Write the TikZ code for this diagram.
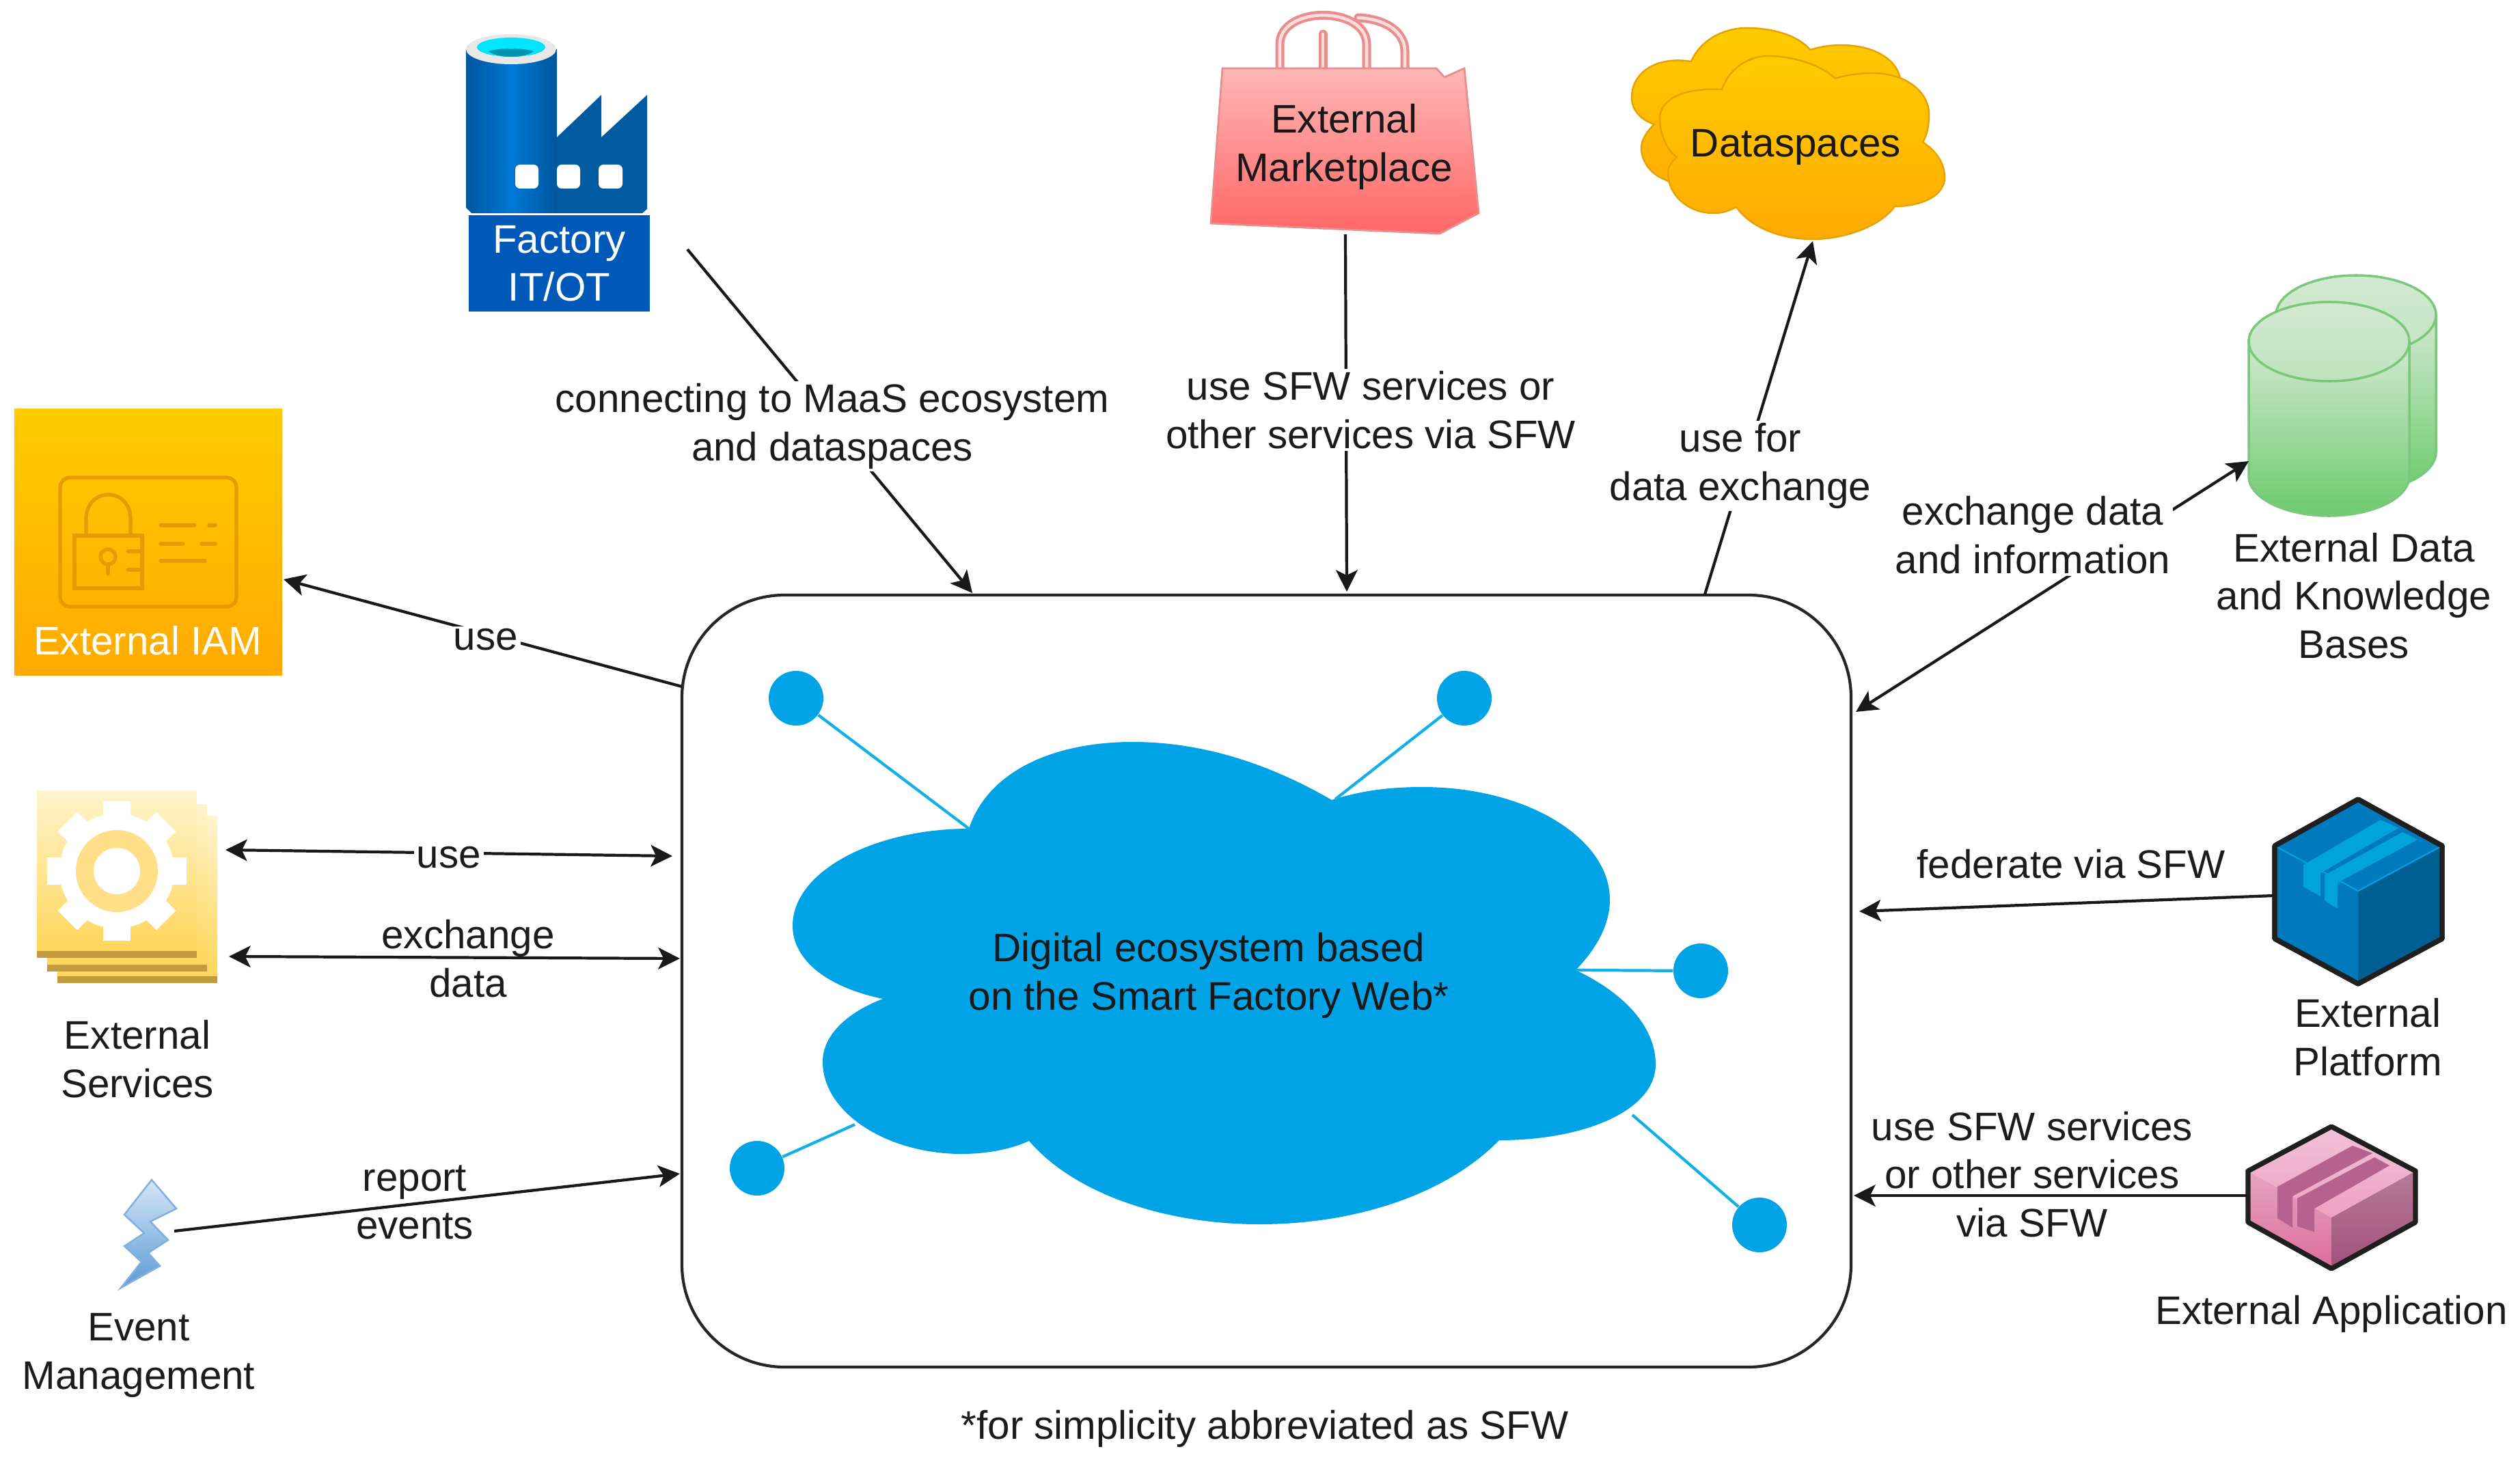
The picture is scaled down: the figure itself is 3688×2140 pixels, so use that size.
\documentclass[tikz,border=0pt]{standalone}
\usepackage{fontspec}
\setmainfont{Liberation Sans}
\usetikzlibrary{arrows.meta}
\definecolor{txt}{HTML}{1C1C1C}
\definecolor{ecoblue}{HTML}{00A3E6}
\definecolor{satline}{HTML}{12B0E6}
\definecolor{HGreen}{HTML}{7CC77C}
\definecolor{HGtop}{HTML}{D2E9D2}
\definecolor{HGbot}{HTML}{6CCB6C}
\definecolor{HPinkD}{HTML}{E88E8E}
\definecolor{HPinkL}{HTML}{FFDCDC}
\definecolor{IamD}{HTML}{E69A05}
\definecolor{DsEdge}{HTML}{E8A200}
\definecolor{DsTop}{HTML}{FFCC00}
\definecolor{DsBot}{HTML}{FFAA00}
\definecolor{HFr}{HTML}{005BA1}
\definecolor{HFa}{HTML}{00569E}
\definecolor{HFb}{HTML}{0078D4}
\definecolor{HFe}{HTML}{E8E8E8}
\definecolor{HFc}{HTML}{00E5FF}
\definecolor{HFd}{HTML}{0094AE}
\definecolor{HFbox}{HTML}{0058B8}
\definecolor{HBagT}{HTML}{FFB6B6}
\definecolor{HBagB}{HTML}{FF6666}
\definecolor{HSt}{HTML}{FFF4CC}
\definecolor{HSb}{HTML}{FFD65C}
\definecolor{HSbar}{HTML}{C29B3E}
\definecolor{HSg}{HTML}{FFDF88}
\definecolor{HEv}{HTML}{7FB0E0}
\definecolor{HEt}{HTML}{D5E6F8}
\definecolor{HEb}{HTML}{5B9BD5}
\definecolor{HPl}{HTML}{0079BD}
\definecolor{HPr}{HTML}{005F92}
\definecolor{HPt}{HTML}{00A3DC}
\definecolor{HAlt}{HTML}{E6A6C2}
\definecolor{HAlb}{HTML}{DC6C9A}
\definecolor{HArt}{HTML}{B67A98}
\definecolor{HArb}{HTML}{A2507A}
\definecolor{HAtt}{HTML}{F0C2D8}
\definecolor{HAtb}{HTML}{F0A0C0}
\definecolor{HAt}{HTML}{B5628F}
\tikzset{
  lbl/.style={font=\fontsize{16.6}{20}\selectfont,text=txt,align=center,inner sep=1pt},
  lblw/.style={lbl,fill=white},
  conn/.style={draw=black!90,line width=1.2pt},
  tip/.style={-{Stealth[length=9pt,width=9pt,inset=2.2pt]}},
  tips/.style={{Stealth[length=9pt,width=9pt,inset=2.2pt]}-{Stealth[length=9pt,width=9pt,inset=2.2pt]}},
  sat/.style={fill=ecoblue},
  satl/.style={draw=satline,line width=1.2pt},
  cyl/.style={draw=HGreen,line width=1pt,top color=HGtop,bottom color=HGbot},
  handle/.style={draw=HPinkD,double=HPinkL,line width=1.2pt,double distance=1.3pt,line cap=round},
  hexo/.style={draw=black!88,line width=2.1pt,line join=round},
  icn/.style={draw=IamD,line width=1.5pt,line cap=round},
  orangecl/.style={draw=DsEdge,line width=.7pt,top color=DsTop,bottom color=DsBot},
}
\begin{document}
\begin{tikzpicture}[x=0.1mm,y=-0.1mm]
\useasboundingbox (0,0) rectangle (3688,2140);
\fill[white] (0,0) rectangle (3688,2140);

% --- main box
\node[draw=black!85,line width=1.2pt,rounded corners=15mm,minimum width=171.1mm,minimum height=113mm,inner sep=0pt] (eco) at (1853.5,1436) {};

% --- central cloud
\fill[ecoblue] (1418,1213) .. controls (1445,1130) and (1540,1086) .. (1658,1086)
  .. controls (1770,1086) and (1870,1125) .. (1949,1171)
  .. controls (1990,1158) and (2030,1152) .. (2082,1152)
  .. controls (2233,1152) and (2356,1226) .. (2356,1317)
  .. controls (2356,1355) and (2335,1390) .. (2306,1420)
  .. controls (2380,1455) and (2423,1505) .. (2423,1558)
  .. controls (2423,1625) and (2320,1669) .. (2194,1669)
  .. controls (2120,1745) and (1990,1792) .. (1843,1792)
  .. controls (1700,1792) and (1570,1745) .. (1506,1670)
  .. controls (1480,1682) and (1445,1689) .. (1407,1689)
  .. controls (1300,1689) and (1204,1630) .. (1204,1554)
  .. controls (1204,1515) and (1240,1482) .. (1292,1462)
  .. controls (1210,1445) and (1160,1405) .. (1160,1355)
  .. controls (1160,1275) and (1280,1213) .. (1418,1213) -- cycle;
\node[lbl,text=black!90] (ecotext) at (1769,1428) {Digital ecosystem based\\on the Smart Factory Web*};
\node[lbl] (note) at (1851,2091) {*for simplicity abbreviated as SFW};

% satellites
\node[sat,circle,minimum size=8mm,inner sep=0pt] (s1) at (1165,1022) {};
\node[sat,circle,minimum size=8mm,inner sep=0pt] (s2) at (2143,1022) {};
\node[sat,circle,minimum size=8mm,inner sep=0pt] (s3) at (2489,1421) {};
\node[sat,circle,minimum size=8mm,inner sep=0pt] (s4) at (1108,1710) {};
\node[sat,circle,minimum size=8mm,inner sep=0pt] (s5) at (2575,1793) {};
\coordinate (c1) at (1418,1213);
\coordinate (c2) at (1954,1170);
\coordinate (c3) at (2306,1420);
\coordinate (c4) at (1251,1646);
\coordinate (c5) at (2389,1632);
\draw[satl] (s1) -- (c1);
\draw[satl] (s2) -- (c2);
\draw[satl] (s3) -- (c3);
\draw[satl] (s4) -- (c4);
\draw[satl] (s5) -- (c5);

% --- factory
\fill[HFr] (815,201) -- (880,139) -- (880,201) -- (947,139) -- (947,306) -- (940,312) -- (815,312) -- cycle;
\shade[left color=HFa,right color=HFa,middle color=HFb] (682,72) -- (815,72) -- (815,312) -- (690,312) -- (682,304) -- cycle;
\fill[HFe] (748,72) ellipse [x radius=66,y radius=22];
\fill[HFc] (748,69) ellipse [x radius=50,y radius=14];
\fill[HFd] (715,75) .. controls (730,86) and (766,86) .. (781,75) .. controls (766,70) and (730,70) .. (715,75) -- cycle;
\fill[white,rounded corners=2pt] (754,241) rectangle (788,276);
\fill[white,rounded corners=2pt] (815,241) rectangle (849,276);
\fill[white,rounded corners=2pt] (876,241) rectangle (911,276);
\node[fill=HFbox,minimum width=26.5mm,minimum height=14.1mm,inner sep=0pt,text=white,font=\fontsize{16.6}{20}\selectfont,align=center] (factory) at (818.5,385.5) {Factory\\IT/OT};

% --- External IAM
\shade[top color=DsTop,bottom color=DsBot] (21,598) rectangle (413,988);
\draw[icn,rounded corners=4pt] (88,699) rectangle (346,888);
\draw[icn] (109,784) rectangle (208,861);
\draw[icn] (126,784) -- (126,760) .. controls (126,712) and (191,712) .. (191,760) -- (191,784);
\draw[icn] (158,815) circle [radius=11];
\draw[icn] (158,826) -- (158,840);
\draw[icn] (187,807) -- (208,807);
\draw[icn] (187,834) -- (208,834);
\draw[icn] (235,769) -- (285,769);
\draw[icn] (306,769) -- (315,769);
\draw[icn] (235,796) -- (268,796);
\draw[icn] (295,796) -- (315,796);
\draw[icn] (235,821) -- (300,821);
\node[text=white,font=\fontsize{16.6}{20}\selectfont,inner sep=0pt] (iam) at (216,938) {External IAM};

% --- marketplace bag
\draw[handle] (1936,100) -- (1936,50);
\draw[handle] (1988,26) .. controls (2030,28) and (2056,48) .. (2056,75) -- (2056,100);
\draw[handle] (1873,100) -- (1873,65) .. controls (1873,8) and (2000,8) .. (2000,65) -- (2000,100);
\path[draw=HPinkD,line width=.8pt,top color=HBagT,bottom color=HBagB]
  (1789,100) -- (2102,100) -- (2114,113) -- (2143,100) -- (2164,312) -- (2107,342) -- (1772,327) -- cycle;
\node[lbl,text=black!90] (market) at (1967,215) {External\\Marketplace};

% --- dataspaces
\path[orangecl] (2388,143) .. controls (2388,105) and (2425,82) .. (2475,90)
  .. controls (2488,60) and (2520,41) .. (2557,41)
  .. controls (2600,41) and (2635,55) .. (2649,73)
  .. controls (2665,68) and (2680,66) .. (2694,66)
  .. controls (2740,66) and (2775,85) .. (2781,115)
  -- (2781,200) -- (2500,300) -- (2437,263)
  .. controls (2415,255) and (2402,235) .. (2402,217)
  .. controls (2402,205) and (2410,192) .. (2421,182)
  .. controls (2400,175) and (2388,160) .. (2388,143) -- cycle;
\path[orangecl] (2429,173) .. controls (2429,145) and (2465,128) .. (2520,131)
  .. controls (2528,105) and (2555,82) .. (2587,82)
  .. controls (2625,82) and (2665,95) .. (2686,115)
  .. controls (2700,110) and (2720,107) .. (2740,107)
  .. controls (2790,107) and (2823,135) .. (2823,167)
  .. controls (2823,185) and (2820,198) .. (2814,208)
  .. controls (2835,222) and (2846,240) .. (2846,260)
  .. controls (2846,285) and (2815,302) .. (2773,302)
  .. controls (2755,328) and (2705,350) .. (2653,350)
  .. controls (2600,350) and (2560,330) .. (2541,303)
  .. controls (2530,309) and (2520,312) .. (2508,312)
  .. controls (2470,312) and (2441,285) .. (2441,253)
  .. controls (2441,245) and (2447,236) .. (2454,230)
  .. controls (2438,218) and (2429,195) .. (2429,173) -- cycle;
\node[lbl,text=black!90] (data) at (2628,215) {Dataspaces};

% --- cylinders
\path[cyl] (3331,461) -- (3331,662) .. controls (3331,694) and (3384,720) .. (3448,720) .. controls (3512,720) and (3565,694) .. (3565,662) -- (3565,461) -- cycle;
\path[cyl,top color=HGtop,bottom color=HGtop!85!HGbot] (3448,461) ellipse [x radius=117,y radius=58];
\path[cyl] (3291,500) -- (3291,697) .. controls (3291,729) and (3344,755) .. (3408.5,755) .. controls (3473,755) and (3526,729) .. (3526,697) -- (3526,500) -- cycle;
\path[cyl,top color=HGtop,bottom color=HGtop!80!HGbot] (3408.5,500) ellipse [x radius=117.5,y radius=58];
\node[lbl] (kb) at (3445,872) {External Data\\and Knowledge\\Bases};

% --- external services
\foreach \dx/\dy in {30/37,15/20,0/0}{
  \begin{scope}[shift={(\dx,\dy)}]
    \shade[top color=HSt,bottom color=HSb] (54,1157) rectangle (288,1392);
    \fill[HSbar] (54,1392) rectangle (288,1402);
  \end{scope}
}
\fill[white] (171,1275) circle [radius=84];
\foreach \a in {0,45,...,315}{
  \fill[white,rotate around={\a:(171,1275)}] (151,1173) rectangle (191,1210);
}
\fill[HSg] (171,1275) circle [radius=60];
\fill[white] (171,1275) circle [radius=34];
\node[lbl] (svc) at (201,1550) {External\\Services};

% --- event management
\path[draw=HEv,line width=.7pt,top color=HEt,bottom color=HEb]
 (222,1727) -- (258,1769) -- (220,1788) -- (246,1815) -- (217,1834) -- (234,1853) -- (177,1885) -- (207,1847) -- (182,1824) -- (211,1805) -- (182,1778) -- cycle;
\node[lbl] (evt) at (203,1984) {Event\\Management};

% --- external platform
\path[fill=HPl,hexo] (3451,1170) -- (3574,1238) -- (3574,1374) -- (3451,1440) -- (3329,1374) -- (3329,1238) -- cycle;
\fill[HPr] (3451,1304) -- (3574,1238) -- (3574,1374) -- (3451,1440) -- cycle;
\fill[HPt] (3371,1266) -- (3484,1200) -- (3510,1212) -- (3396,1278) -- (3396,1312) -- (3371,1298) -- cycle;
\fill[HPt] (3402,1281) -- (3516,1218) -- (3538,1229) -- (3421,1292) -- (3421,1330) -- (3402,1318) -- cycle;
\draw[HPt,line width=.6pt] (3329,1238) -- (3451,1304) -- (3574,1238);
\draw[hexo] (3451,1170) -- (3574,1238) -- (3574,1374) -- (3451,1440) -- (3329,1374) -- (3329,1238) -- cycle;
\node[lbl] (plat) at (3465,1518) {External\\Platform};

% --- external application
\shade[top color=HAlt,bottom color=HAlb] (3290,1714) -- (3412,1782) -- (3412,1857) -- (3290,1789) -- cycle;
\shade[top color=HArt,bottom color=HArb] (3412,1782) -- (3535,1714) -- (3535,1789) -- (3412,1857) -- cycle;
\shade[top color=HAtt,bottom color=HAtb] (3412,1649) -- (3535,1714) -- (3412,1782) -- (3290,1714) -- cycle;
\fill[HAt] (3333,1737) -- (3443,1677) -- (3472,1688) -- (3355,1751) -- (3355,1797) -- (3333,1783) -- cycle;
\fill[HAt] (3362,1754) -- (3475,1694) -- (3497,1706) -- (3387,1769) -- (3387,1803) -- (3362,1795) -- cycle;
\draw[hexo] (3412,1649) -- (3535,1714) -- (3535,1789) -- (3412,1857) -- (3290,1789) -- (3290,1714) -- cycle;
\node[lbl] (app) at (3412,1923) {External Application};

% --- connector ends
\coordinate (fa) at (1006,365);
\coordinate (fb) at (1423,868);
\coordinate (ma) at (1969,343);
\coordinate (mb) at (1971,866);
\coordinate (da) at (2495,870);
\coordinate (db) at (2653,353);
\coordinate (ka) at (3291,675);
\coordinate (kb2) at (2716,1042);
\coordinate (ia) at (998,1005);
\coordinate (ib) at (415,848);
\coordinate (ua) at (330,1244);
\coordinate (ub) at (984,1253);
\coordinate (xa) at (335,1400);
\coordinate (xb) at (995,1403);
\coordinate (ea) at (255,1802);
\coordinate (eb) at (995,1718);
\coordinate (pa) at (3327,1311);
\coordinate (pb) at (2721,1334);
\coordinate (aa) at (3289,1750);
\coordinate (ab) at (2713,1750);

\draw[conn,tip] (fa) -- (fb);
\draw[conn,tip] (ma) -- (mb);
\draw[conn,tip] (da) -- (db);
\draw[conn,tips] (ka) -- (kb2);
\draw[conn,tip] (ia) -- (ib);
\draw[conn,tips] (ua) -- (ub);
\draw[conn,tips] (xa) -- (xb);
\draw[conn,tip] (ea) -- (eb);
\draw[conn,tip] (pa) -- (pb);
\draw[conn,tip] (aa) -- (ab);

% --- connector labels
\node[lblw] (l1) at (1218,624) {connecting to MaaS ecosystem\\and dataspaces};
\node[lblw] (l2) at (2006,600) {use SFW services or\\other services via SFW};
\node[lblw] (l3) at (2547,682) {use for\\data exchange};
\node[lblw] (l4) at (2975,783) {exchange data\\and information};
\node[lblw] (l5) at (711,936) {use};
\node[lblw] (l6) at (657,1255) {use};
\node[lbl] (l7) at (685,1403) {exchange\\data};
\node[lbl] (l8) at (607,1760) {report\\events};
\node[lbl] (l9) at (3031,1265) {federate via SFW};
\node[lbl] (l10) at (2974,1719) {use SFW services\\or other services\\via SFW};
\end{tikzpicture}
\end{document}
